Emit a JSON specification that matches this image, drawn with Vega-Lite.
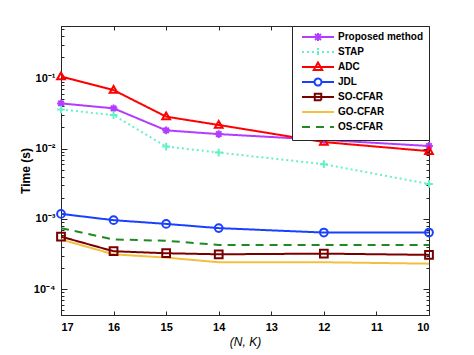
{
  "$schema": "https://vega.github.io/schema/vega-lite/v6.json",
  "width": 368,
  "height": 289,
  "autosize": {"type": "none"},
  "padding": {"left": 61, "top": 26, "right": 45, "bottom": 40},
  "background": "white",
  "config": {
    "view": {"stroke": "#262626", "strokeWidth": 1},
    "font": "Liberation Sans",
    "axis": {"domainColor": "#262626", "tickColor": "#262626", "labelColor": "#000", "titleColor": "#000", "grid": false, "labelFont": "Liberation Sans", "labelFontWeight": "bold", "labelFontSize": 11, "titleFont": "Liberation Sans", "titleFontSize": 12}
  },
  "data": {"values": [
    {"series": "Proposed method", "nk": 17, "time": 0.044},
    {"series": "Proposed method", "nk": 16, "time": 0.0374},
    {"series": "Proposed method", "nk": 15, "time": 0.0182},
    {"series": "Proposed method", "nk": 14, "time": 0.0161},
    {"series": "Proposed method", "nk": 12, "time": 0.0133},
    {"series": "Proposed method", "nk": 10, "time": 0.0109},
    {"series": "STAP", "nk": 17, "time": 0.036},
    {"series": "STAP", "nk": 16, "time": 0.030},
    {"series": "STAP", "nk": 15, "time": 0.0107},
    {"series": "STAP", "nk": 14, "time": 0.0088},
    {"series": "STAP", "nk": 12, "time": 0.0060},
    {"series": "STAP", "nk": 10, "time": 0.00314},
    {"series": "ADC", "nk": 17, "time": 0.106},
    {"series": "ADC", "nk": 16, "time": 0.068},
    {"series": "ADC", "nk": 15, "time": 0.0285},
    {"series": "ADC", "nk": 14, "time": 0.0217},
    {"series": "ADC", "nk": 12, "time": 0.0124},
    {"series": "ADC", "nk": 10, "time": 0.0092},
    {"series": "JDL", "nk": 17, "time": 0.00118},
    {"series": "JDL", "nk": 16, "time": 0.00096},
    {"series": "JDL", "nk": 15, "time": 0.00085},
    {"series": "JDL", "nk": 14, "time": 0.00074},
    {"series": "JDL", "nk": 12, "time": 0.00064},
    {"series": "JDL", "nk": 10, "time": 0.00064},
    {"series": "SO-CFAR", "nk": 17, "time": 0.00056},
    {"series": "SO-CFAR", "nk": 16, "time": 0.000347},
    {"series": "SO-CFAR", "nk": 15, "time": 0.000325},
    {"series": "SO-CFAR", "nk": 14, "time": 0.000314},
    {"series": "SO-CFAR", "nk": 12, "time": 0.000321},
    {"series": "SO-CFAR", "nk": 10, "time": 0.000308},
    {"series": "GO-CFAR", "nk": 17, "time": 0.00051},
    {"series": "GO-CFAR", "nk": 16, "time": 0.000314},
    {"series": "GO-CFAR", "nk": 15, "time": 0.000282},
    {"series": "GO-CFAR", "nk": 14, "time": 0.000242},
    {"series": "GO-CFAR", "nk": 12, "time": 0.000242},
    {"series": "GO-CFAR", "nk": 10, "time": 0.000231},
    {"series": "OS-CFAR", "nk": 17, "time": 0.00074},
    {"series": "OS-CFAR", "nk": 16, "time": 0.00051},
    {"series": "OS-CFAR", "nk": 15, "time": 0.00049},
    {"series": "OS-CFAR", "nk": 14, "time": 0.000427},
    {"series": "OS-CFAR", "nk": 12, "time": 0.000427},
    {"series": "OS-CFAR", "nk": 10, "time": 0.000427}
  ]},
  "layer": [
    {
      "mark": {"type": "line", "strokeWidth": 2, "clip": true},
      "encoding": {
        "x": {"field": "nk", "type": "quantitative", "title": "(N, K)",
          "scale": {"domain": [10, 17], "reverse": true, "nice": false, "zero": false},
          "axis": {"orient": "bottom", "values": [10, 11, 12, 13, 14, 15, 16, 17], "tickSize": -4, "labelPadding": 10, "titleFontStyle": "italic", "titleFontWeight": "normal", "titlePadding": 4}},
        "y": {"field": "time", "type": "quantitative", "title": "Time (s)",
          "scale": {"type": "log", "domain": [0.000043, 0.555], "nice": false},
          "axis": {"orient": "left",
            "values": [0.00005, 0.00006, 0.00007, 0.00008, 0.00009, 0.0001, 0.0002, 0.0003, 0.0004, 0.0005, 0.0006, 0.0007, 0.0008, 0.0009, 0.001, 0.002, 0.003, 0.004, 0.005, 0.006, 0.007, 0.008, 0.009, 0.01, 0.02, 0.03, 0.04, 0.05, 0.06, 0.07, 0.08, 0.09, 0.1, 0.2, 0.3, 0.4, 0.5],
            "labelExpr": "datum.value == 0.1 ? '10⁻¹' : datum.value == 0.01 ? '10⁻²' : datum.value == 0.001 ? '10⁻³' : datum.value == 0.0001 ? '10⁻⁴' : ''",
            "tickSize": {"condition": {"test": "indexof([0.0001, 0.001, 0.01, 0.1], datum.value) >= 0", "value": -6}, "value": -3},
            "labelPadding": 12, "titleFontWeight": "bold", "titlePadding": 1}},
        "color": {"field": "series", "type": "nominal",
          "scale": {"domain": ["Proposed method", "STAP", "ADC", "JDL", "SO-CFAR", "GO-CFAR", "OS-CFAR"],
                    "range": ["#b23cff", "#66f0c8", "#ff0000", "#1a40ff", "#7a0000", "#f2c040", "#1f8a1f"]},
          "legend": {"title": null, "orient": "top-right", "offset": 0, "padding": 5, "strokeColor": "#262626", "fillColor": "white", "cornerRadius": 0,
            "labelFont": "Liberation Sans", "labelFontWeight": "bold", "labelFontSize": 10, "labelColor": "#000", "gridAlign": "all", "rowPadding": -2, "symbolSize": 100, "symbolStrokeWidth": 2,
            "encode": {
              "symbols": {"update": {
                "x": {"value": 21},
                "fill": {"value": "transparent"},
                "strokeWidth": {"value": 2},
                "shape": {"signal": "datum.value == 'Proposed method' ? 'M-3.2,0H3.2M-0.6,-0.6L0.6,0.6M-0.6,0.6L0.6,-0.6M0,-0.8V0.8' : datum.value == 'STAP' ? 'M-3.2,0H3.2M0,-0.8V0.8' : datum.value == 'ADC' ? 'M-3.2,0H3.2M0,-0.9L0.85,0.6L-0.85,0.6Z' : datum.value == 'JDL' ? 'M-3.2,0H-0.7M0.7,0H3.2M0.7,0A0.7,0.7 0 1,1 -0.7,0A0.7,0.7 0 1,1 0.7,0' : datum.value == 'SO-CFAR' ? 'M-3.2,0H3.2M-0.65,-0.65H0.65V0.65H-0.65Z' : 'M-3.2,0H3.2M0,-0.8M0,0.8'"},
                "strokeDash": {"signal": "datum.value == 'STAP' ? [2, 3] : datum.value == 'OS-CFAR' ? [8, 6] : [1, 0]"}
              }},
              "labels": {"update": {"x": {"value": 41}}}
            }}},
        "strokeDash": {"field": "series", "type": "nominal",
          "scale": {"domain": ["Proposed method", "STAP", "ADC", "JDL", "SO-CFAR", "GO-CFAR", "OS-CFAR"],
                    "range": [[1, 0], [2, 3], [1, 0], [1, 0], [1, 0], [1, 0], [8, 6]]},
          "legend": null}
      }
    },
    {
      "transform": [{"filter": {"field": "series", "oneOf": ["Proposed method", "STAP", "ADC", "JDL", "SO-CFAR"]}}],
      "mark": {"type": "point", "filled": false, "strokeWidth": 2, "size": 60, "opacity": 1},
      "encoding": {
        "x": {"field": "nk", "type": "quantitative",
          "axis": {"orient": "top", "values": [10, 11, 12, 13, 14, 15, 16, 17], "tickSize": -4, "labels": false, "title": null}},
        "y": {"field": "time", "type": "quantitative",
          "axis": {"orient": "right", "labels": false, "title": null,
            "values": [0.00005, 0.00006, 0.00007, 0.00008, 0.00009, 0.0001, 0.0002, 0.0003, 0.0004, 0.0005, 0.0006, 0.0007, 0.0008, 0.0009, 0.001, 0.002, 0.003, 0.004, 0.005, 0.006, 0.007, 0.008, 0.009, 0.01, 0.02, 0.03, 0.04, 0.05, 0.06, 0.07, 0.08, 0.09, 0.1, 0.2, 0.3, 0.4, 0.5],
            "tickSize": {"condition": {"test": "indexof([0.0001, 0.001, 0.01, 0.1], datum.value) >= 0", "value": -6}, "value": -3}}},
        "color": {"field": "series", "type": "nominal"},
        "shape": {"field": "series", "type": "nominal",
          "scale": {"domain": ["Proposed method", "STAP", "ADC", "JDL", "SO-CFAR"],
                    "range": ["M-0.7,-0.7L0.7,0.7M-0.7,0.7L0.7,-0.7M0,-1V1M-1,0H1", "M-1,0H1M0,-1V1", "M0,-1.05L1,0.7L-1,0.7Z", "circle", "square"]},
          "legend": null}
      }
    }
  ],
  "resolve": {"axis": {"x": "independent", "y": "independent"}}
}
